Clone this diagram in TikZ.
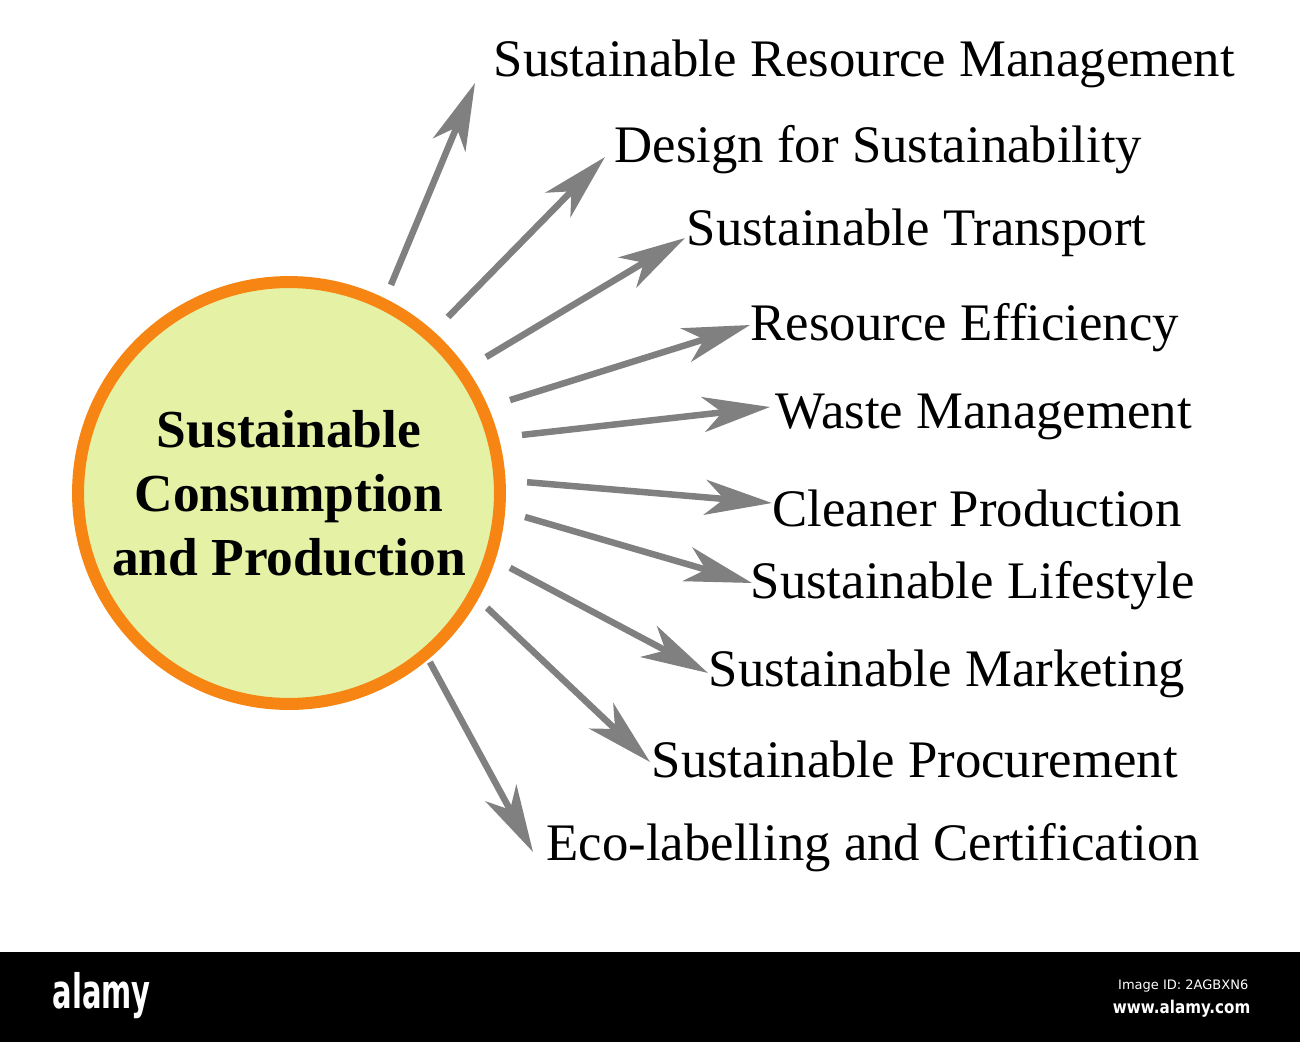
\documentclass[tikz,border=0pt]{standalone}
\usepackage{fontspec}
\setmainfont{Liberation Serif}
\newfontfamily\bandfont{DejaVu Sans}
\newfontfamily\bandnarrow{DejaVu Sans}[FakeStretch=0.86, BoldFeatures={FakeStretch=0.86}]
\newfontfamily\logofont{DejaVu Sans}[FakeStretch=0.61, BoldFeatures={FakeStretch=0.61}]
\usetikzlibrary{arrows.meta,calc}

\definecolor{scpfill}{RGB}{229,242,165}
\definecolor{scporange}{RGB}{246,133,20}
\definecolor{arrgray}{RGB}{128,128,128}

\tikzset{
  topic/.style={anchor=base west, inner sep=0pt, font=\fontsize{15}{18}\selectfont},
  arr/.style={draw=arrgray, line width=0.065cm, -{Stealth[length=0.67cm,width=0.35cm,inset=0.19cm]}},
  band/.style={text=white, inner sep=0pt},
}

\begin{document}
\begin{tikzpicture}[x=0.01cm,y=-0.01cm]
    \useasboundingbox (0,0) rectangle (1300,1042);
    \node[circle, draw=scporange, fill=scpfill, line width=0.12cm, minimum size=4.06cm, align=center,
          font=\bfseries\fontsize{15.2}{18.2}\selectfont] (scp) at (289,493) {Sustainable\\Consumption\\and Production};
    \node[topic] (srm) at (493,76) {Sustainable Resource Management};
    \node[topic] (dfs) at (614,162) {Design for Sustainability};
    \node[topic] (stp) at (686,245) {Sustainable Transport};
    \node[topic] (ref) at (750,340) {Resource Efficiency};
    \node[topic] (wmg) at (775,428) {Waste Management};
    \node[topic] (clp) at (772,526) {Cleaner Production};
    \node[topic] (slf) at (750,598) {Sustainable Lifestyle};
    \node[topic] (smk) at (708,686) {Sustainable Marketing};
    \node[topic] (spr) at (651,777) {Sustainable Procurement};
    \node[topic] (elc) at (546,860) {Eco-labelling and Certification};
    \draw[arr] ($(scp)+(-63.9:231.7)$) -- ($(srm.base west)+(-18,7)$);
    \draw[arr] ($(scp)+(-47.9:237.2)$) -- ($(dfs.base west)+(-9,-5)$);
    \draw[arr] ($(scp)+(-34.6:239.4)$) -- ($(stp.base west)+(-1,-7)$);
    \draw[arr] ($(scp)+(-22.8:239.8)$) -- ($(ref.base west)+(0,-15)$);
    \draw[arr] ($(scp)+(-14.0:240.1)$) -- ($(wmg.base west)+(-5,-21)$);
    \draw[arr] ($(scp)+(-2.6:238.3)$) -- ($(clp.base west)+(0,-23)$);
    \draw[arr] ($(scp)+(5.8:237.2)$) -- ($(slf.base west)+(2,-15)$);
    \draw[arr] ($(scp)+(18.7:233.4)$) -- ($(smk.base west)+(0,-13)$);
    \draw[arr] ($(scp)+(30.1:229.0)$) -- ($(spr.base west)+(-1,-15)$);
    \draw[arr] ($(scp)+(50.2:220.1)$) -- ($(elc.base west)+(-13,-8)$);
    % stock bar at the bottom
    \fill[black] (0,952) rectangle (1300,1042);
    \node[band, anchor=base west, font=\logofont\bfseries\fontsize{13.5}{14}\selectfont] (logo) at (52,1008) {alamy};
    \node[band, anchor=base east, font=\bandfont\fontsize{3.7}{4}\selectfont] (imgid) at (1249,989) {Image ID: 2AGBXN6};
    \node[band, anchor=base east, font=\bandnarrow\bfseries\fontsize{5}{6}\selectfont] (site) at (1251,1013) {www.alamy.com};
\end{tikzpicture}
\end{document}
